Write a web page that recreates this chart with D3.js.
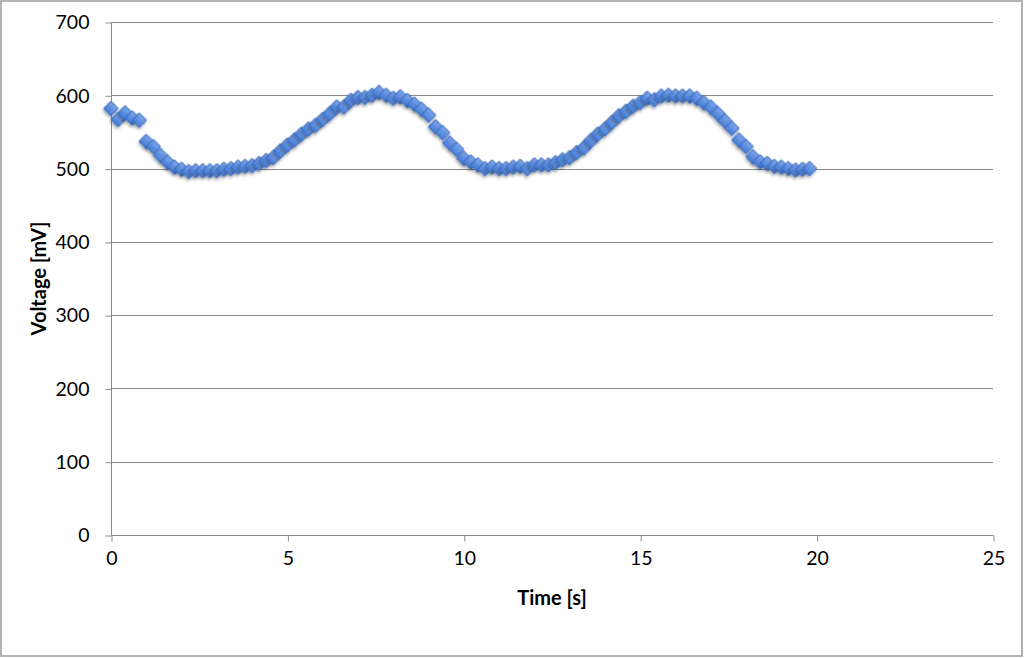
<!DOCTYPE html>
<html>
<head>
<meta charset="utf-8">
<script src="https://d3js.org/d3.v7.min.js"></script>
<style>
  body { margin: 0; background: #fff; }
  #chart text { font-family: Lato, "Open Sans", sans-serif; fill: #000; }
</style>
</head>
<body>
<div id="chart"></div>
<script>
// sample times in seconds
var time_s = [
  0.0, 0.2, 0.4, 0.6, 0.8, 1.0, 1.2, 1.4, 1.6, 1.8,
  2.0, 2.2, 2.4, 2.6, 2.8, 3.0, 3.2, 3.4, 3.6, 3.8,
  4.0, 4.2, 4.4, 4.6, 4.8, 5.0, 5.2, 5.4, 5.6, 5.8,
  6.0, 6.2, 6.4, 6.6, 6.8, 7.0, 7.2, 7.4, 7.6, 7.8,
  8.0, 8.2, 8.4, 8.6, 8.8, 9.0, 9.2, 9.4, 9.6, 9.8,
  10.0, 10.2, 10.4, 10.6, 10.8, 11.0, 11.2, 11.4, 11.6, 11.8,
  12.0, 12.2, 12.4, 12.6, 12.8, 13.0, 13.2, 13.4, 13.6, 13.8,
  14.0, 14.2, 14.4, 14.6, 14.8, 15.0, 15.2, 15.4, 15.6, 15.8,
  16.0, 16.2, 16.4, 16.6, 16.8, 17.0, 17.2, 17.4, 17.6, 17.8,
  18.0, 18.2, 18.4, 18.6, 18.8, 19.0, 19.2, 19.4, 19.6, 19.8,
];

// voltage readings in mV
var voltage_mv = [
  582, 567, 576, 569, 566, 537, 530, 518, 509, 502,
  499, 496, 497, 497, 497, 497, 499, 500, 502, 503,
  504, 507, 511, 515, 524, 532, 539, 547, 554, 559,
  567, 575, 584, 584, 593, 597, 597, 600, 604, 600,
  596, 598, 593, 588, 581, 573, 557, 549, 535, 526,
  514, 509, 505, 500, 502, 500, 500, 502, 503, 500,
  505, 505, 505, 508, 512, 515, 522, 528, 538, 547,
  554, 563, 572, 578, 585, 590, 596, 594, 599, 600,
  599, 599, 599, 596, 590, 584, 575, 565, 555, 539,
  530, 516, 509, 507, 503, 502, 500, 498, 499, 500,
];

var x_ticks = [0, 5, 10, 15, 20, 25];
var y_ticks = [0, 100, 200, 300, 400, 500, 600, 700];

var x_title = "Time [s]";
var y_title = "Voltage [mV]";

window.onload = function () {
  var width = 1024;
  var height = 658;
  var margin = { top: 22, right: 31, bottom: 123, left: 111 };
  var grid_color = "#8a8a8a";

  var svg = d3
    .select("#chart")
    .append("svg")
    .attr("width", width)
    .attr("height", height);

  // outer frame of the chart
  svg
    .append("rect")
    .attr("x", 1)
    .attr("y", 1)
    .attr("width", width - 3)
    .attr("height", height - 3)
    .attr("fill", "#fff")
    .attr("stroke", "#9a9a9a")
    .attr("stroke-width", 1.5);

  // gradient + shadow for the markers
  var defs = svg.append("defs");
  var grad = defs
    .append("linearGradient")
    .attr("id", "markerFill")
    .attr("x1", "0")
    .attr("y1", "0")
    .attr("x2", "0")
    .attr("y2", "1");
  grad.append("stop").attr("offset", "0%").attr("stop-color", "#7ea6ea");
  grad.append("stop").attr("offset", "100%").attr("stop-color", "#467dd6");

  var shadow = defs
    .append("filter")
    .attr("id", "markerShadow")
    .attr("x", "-50%")
    .attr("y", "-50%")
    .attr("width", "200%")
    .attr("height", "200%");
  shadow
    .append("feDropShadow")
    .attr("dx", 1)
    .attr("dy", 2)
    .attr("stdDeviation", 1.4)
    .attr("flood-color", "#000")
    .attr("flood-opacity", 0.35);

  var x = d3
    .scaleLinear()
    .domain([0, 25])
    .range([margin.left, width - margin.right]);

  var y = d3
    .scaleLinear()
    .domain([0, 700])
    .range([height - margin.bottom, margin.top]);

  // horizontal gridlines
  svg
    .append("g")
    .selectAll("line")
    .data(y_ticks.filter((t) => t > 0))
    .enter()
    .append("line")
    .attr("x1", x(0))
    .attr("x2", x(25))
    .attr("y1", (d) => Math.round(y(d)) + 0.5)
    .attr("y2", (d) => Math.round(y(d)) + 0.5)
    .attr("stroke", grid_color)
    .attr("stroke-width", 1);

  // y axis
  var yAxis = svg
    .append("g")
    .attr("transform", "translate(" + (Math.round(x(0)) + 0.5) + ",0.5)")
    .call(
      d3.axisLeft(y).tickValues(y_ticks).tickSize(6).tickPadding(16).tickFormat(d3.format("d"))
    );
  yAxis.selectAll("path, line").attr("stroke", grid_color);
  yAxis.selectAll("text").style("font-size", "19.5px");

  // x axis
  var xAxis = svg
    .append("g")
    .attr("transform", "translate(0.5," + (Math.round(y(0)) + 0.5) + ")")
    .call(
      d3.axisBottom(x).tickValues(x_ticks).tickSize(6).tickPadding(10).tickFormat(d3.format("d"))
    );
  xAxis.selectAll("path, line").attr("stroke", grid_color);
  xAxis.selectAll("text").style("font-size", "19.5px");
  xAxis.select(".domain").attr("d", "M" + x(0) + ",0H" + x(25));
  yAxis.select(".domain").attr("d", "M0," + y(700) + "V" + y(0));

  // data markers (diamonds)
  var points = time_s.map(function (t, i) {
    return { t: t, v: voltage_mv[i] };
  });

  svg
    .append("g")
    .selectAll("path")
    .data(points)
    .enter()
    .append("path")
    .attr("d", d3.symbol(d3.symbolSquare, 104))
    .attr("transform", function (d) {
      return "translate(" + x(d.t) + "," + y(d.v) + ") rotate(45)";
    })
    .attr("fill", "url(#markerFill)")
    .attr("stroke", "#3a6bc0")
    .attr("stroke-width", 0.9)
    .attr("filter", "url(#markerShadow)");

  // axis titles
  svg
    .append("text")
    .attr("x", (x(0) + x(25)) / 2)
    .attr("y", 605)
    .attr("text-anchor", "middle")
    .style("font-size", "20px")
    .style("font-weight", "bold")
    .text(x_title);

  svg
    .append("text")
    .attr("transform", "translate(46," + (y(0) + y(700)) / 2 + ") rotate(-90)")
    .attr("text-anchor", "middle")
    .style("font-size", "20px")
    .style("font-weight", "bold")
    .text(y_title);
};
</script>
</body>
</html>
